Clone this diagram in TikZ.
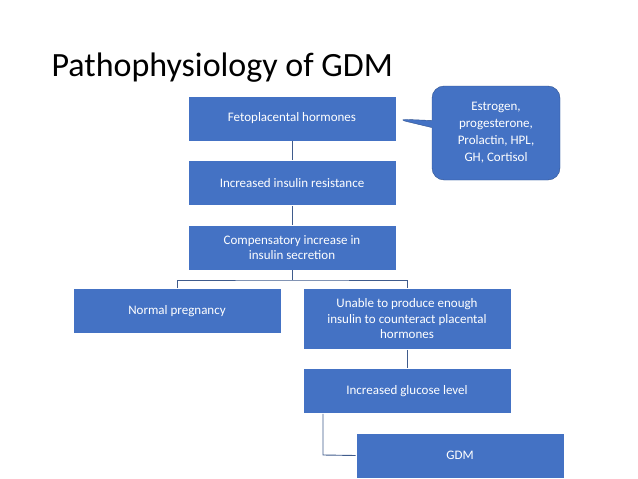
\documentclass[tikz,border=0pt]{standalone}
\usepackage{fontspec}
\setmainfont{Carlito}
\usetikzlibrary{positioning,shapes.callouts}
\definecolor{boxblue}{HTML}{4472C4}
\definecolor{edgeblue}{HTML}{2F528F}
\begin{document}
\begin{tikzpicture}[x=1pt,y=-1pt,
    box/.style={fill=boxblue,draw=white,line width=0.8pt,text=white,minimum width=208pt,
      align=center,font=\fontsize{13}{15.5}\selectfont,inner sep=2pt},
    link/.style={draw=edgeblue!80!gray,line width=0.9pt}]
  \useasboundingbox (0,0) rectangle (638,479);
  \node (title) [anchor=base west,font=\fontsize{34}{40}\selectfont] at (48,76) {Pathophysiology of GDM};
  \node (feto) [box,minimum height=45pt] at (292,118.5) {Fetoplacental hormones};
  \node (resist) [box,minimum height=45pt] at (292,183) {Increased insulin resistance};
  \node (comp) [box,minimum height=45pt] at (292,247.5) {Compensatory increase in\\insulin secretion};
  \node (normal) [box,minimum height=45pt] at (177,311) {Normal pregnancy};
  \node (unable) [box,minimum height=61pt] at (407,319) {Unable to produce enough\\insulin to counteract placental\\hormones};
  \node (glucose) [box,minimum height=45pt] at (407,391) {Increased glucose level};
  \node (gdm) [box,minimum height=45pt] at (460,455.5) {GDM};
  \node (horm) [shape=rectangle callout,draw=edgeblue,fill=boxblue,text=white,
    rounded corners=12pt,minimum width=128pt,minimum height=94pt,
    align=center,font=\fontsize{13}{17}\selectfont,
    callout absolute pointer={(396,119)}] at (496,133) {Estrogen,\\progesterone,\\Prolactin, HPL,\\GH, Cortisol};
  \coordinate (fork) at (292,280);
  \coordinate (bend) at (323,455);
  \draw [link] (feto) -- (resist);
  \draw [link] (resist) -- (comp);
  \draw [link] (comp) -- (fork);
  \draw [link] (normal.north) |- (fork) -| (unable.north);
  \draw [link] (unable) -- (glucose);
  \draw [link] (glucose.south -| bend) -- (bend) -- (gdm.west);
\end{tikzpicture}
\end{document}
